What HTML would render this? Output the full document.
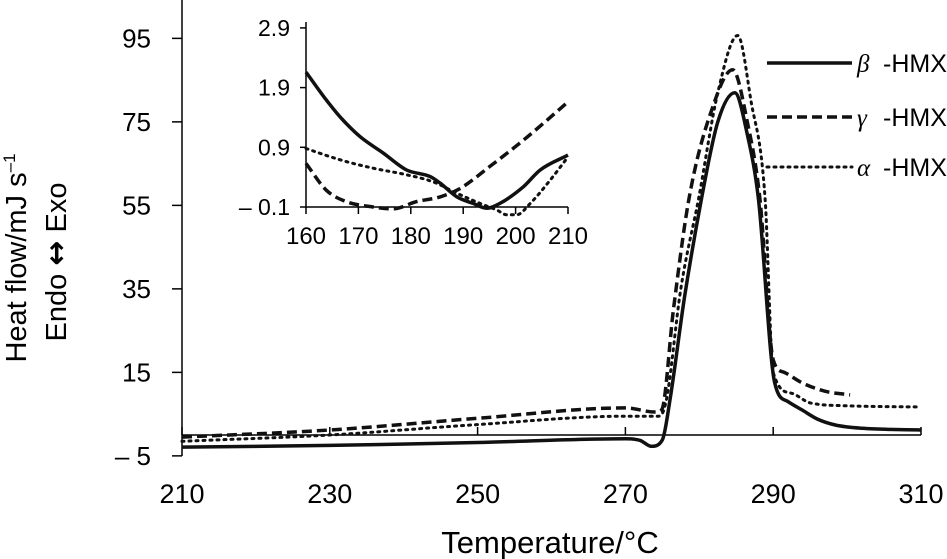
<!DOCTYPE html>
<html><head><meta charset="utf-8"><style>
html,body{margin:0;padding:0;background:#fff;}
svg{display:block;font-family:"Liberation Sans",sans-serif;}
</style></head><body>
<svg id="c" width="947" height="559" viewBox="0 0 947 559"></svg>
<script>
// main chart data
const xTicks=[210,230,250,270,290,310];
const yTicks=[95,75,55,35,15,-5];
const betaT=[210,230,250,270,272,273.5,275,276,278,280.3,282.5,284.8,286.5,288,290.2,292,293.9,296,298.4,302,310];
const betaV=[-2.9,-2.5,-1.8,-0.9,-1.3,-2.7,-1.2,8,33,56.6,75,82,72,56.6,12.5,8,6,3.8,2.4,1.6,1.2];
const gammaT=[210,230,250,270,274,274.9,276.5,278.6,281.7,284.5,286.5,288.2,290,291.5,293.9,297,300.4];
const gammaV=[-0.5,1.2,4,6.5,5.5,6,30,56.6,78,87.5,75,56.6,18,15,12.5,10.5,9.6];
const alphaT=[210,230,250,270,274.5,275.5,277.5,279.9,282.5,285.2,287,288.9,290,292.5,295,300,310];
const alphaV=[-1.5,0,2.5,4.5,4.5,8,35,56.6,82,95.7,80,56.6,15,10,7.7,7,6.7];
// inset data
const inXTicks=[160,170,180,190,200,210];
const inYTicks=[2.9,1.9,0.9,-0.1];
const inBetaT=[160,163.9,166.5,170.3,174.8,179.2,183.7,185.6,188.8,191.9,194.5,197,201.5,204.7,210];
const inBetaV=[2.16,1.69,1.41,1.08,0.80,0.52,0.41,0.30,0.07,-0.04,-0.12,-0.04,0.24,0.52,0.77];
const inGammaT=[160,163.9,167.7,172.8,176.6,181.1,185.6,189.4,195.1,201.5,210];
const inGammaV=[0.63,0.18,-0.01,-0.1,-0.13,-0.01,0.07,0.21,0.58,1.02,1.66];
const inAlphaT=[160,166.5,172.8,179.2,184.3,188.8,193.2,196.4,198.3,200.2,202.8,206.6,210];
const inAlphaV=[0.88,0.69,0.55,0.44,0.32,0.13,-0.04,-0.15,-0.23,-0.23,-0.04,0.35,0.74];

const svg=document.getElementById('c');
const NS='http://www.w3.org/2000/svg';
function mk(t,a,p){const e=document.createElementNS(NS,t);for(const k in a)e.setAttribute(k,a[k]);(p||svg).appendChild(e);return e;}
const X=v=>182+(v-210)*7.39;
const Y=v=>435-v*4.175;
const IX=v=>306+(v-160)*5.24;
const IY=v=>207-(v+0.1)*59.7;
function smooth(p){
  const n=p.length,d=[],m=[];
  for(let i=0;i<n-1;i++)d.push((p[i+1][1]-p[i][1])/(p[i+1][0]-p[i][0]));
  m[0]=d[0];m[n-1]=d[n-2];
  for(let i=1;i<n-1;i++)m[i]=(d[i-1]*d[i]<=0)?0:(d[i-1]+d[i])/2;
  for(let i=0;i<n-1;i++){if(d[i]===0){m[i]=0;m[i+1]=0;continue;}const a=m[i]/d[i],b=m[i+1]/d[i],s=a*a+b*b;if(s>9){const t=3/Math.sqrt(s);m[i]=t*a*d[i];m[i+1]=t*b*d[i];}}
  let s='M'+p[0][0].toFixed(1)+','+p[0][1].toFixed(1);
  for(let i=0;i<n-1;i++){const h=(p[i+1][0]-p[i][0])/3;s+=`C${(p[i][0]+h).toFixed(1)},${(p[i][1]+m[i]*h).toFixed(1)} ${(p[i+1][0]-h).toFixed(1)},${(p[i+1][1]-m[i+1]*h).toFixed(1)} ${p[i+1][0].toFixed(1)},${p[i+1][1].toFixed(1)}`;}
  return s;
}
const styles={beta:{w:3.5,da:''},gamma:{w:3.5,da:'10,5'},alpha:{w:3,da:'2,5'}};

let e;
e=mk('line',{x1:182,y1:0,x2:182,y2:456,stroke:'#000','stroke-width':1.5});

e=mk('line',{x1:182,y1:435,x2:921,y2:435,stroke:'#000','stroke-width':1.5});

yTicks.forEach(v=>{
  e=mk('line',{x1:172,y1:Y(v),x2:182,y2:Y(v),stroke:'#000','stroke-width':1.5});
  
  e=mk('text',{x:151,y:Y(v)+9,'font-size':26,'text-anchor':'end'});e.textContent=v<0?'– '+Math.abs(v):v;
  
});
xTicks.forEach(v=>{
  e=mk('line',{x1:X(v),y1:427,x2:X(v),y2:435,stroke:'#000','stroke-width':1.5});
  
  e=mk('text',{x:X(v),y:503,'font-size':27,'text-anchor':'middle'});e.textContent=v;
  
});
e=mk('text',{x:550,y:553,'font-size':31,'text-anchor':'middle'});e.textContent='Temperature/°C';

e=mk('text',{transform:'translate(26,258) rotate(-90)','font-size':29,'text-anchor':'middle'});
e.innerHTML='Heat flow/mJ s<tspan font-size="17" dy="-11">–1</tspan>';

e=mk('text',{transform:'translate(66,262) rotate(-90)','font-size':29,'text-anchor':'middle'});
e.innerHTML='Endo <tspan font-family="DejaVu Sans,sans-serif" font-weight="bold" font-size="30">↔</tspan> Exo';


function series(T,V,fx,fy,st,name){
  const p=mk('path',{d:smooth(T.map((t,i)=>[fx(t),fy(V[i])])),fill:'none',stroke:'#111','stroke-width':st.w,'stroke-dasharray':st.da,'stroke-linecap':st.da==='2,5'?'round':'butt','stroke-linejoin':'round'});
  
}
series(alphaT,alphaV,X,Y,styles.alpha,'alpha-hmx-line');
series(gammaT,gammaV,X,Y,styles.gamma,'gamma-hmx-line');
series(betaT,betaV,X,Y,styles.beta,'beta-hmx-line');

const leg=[['β','beta',63],['γ','gamma',117],['α','alpha',167]];
leg.forEach(([g,k,y])=>{
  const s=styles[k];
  e=mk('line',{x1:767,y1:y,x2:852,y2:y,stroke:'#111','stroke-width':s.w,'stroke-dasharray':s.da,'stroke-linecap':k==='alpha'?'round':'butt'});
  
  e=mk('text',{x:857,y:y+9,'font-size':25});
  e.innerHTML='<tspan font-family="Liberation Serif,serif" font-style="italic">'+g+'</tspan><tspan x="883">-HMX</tspan>';
  
});

e=mk('line',{x1:306,y1:22,x2:306,y2:207,stroke:'#000','stroke-width':1.5});

e=mk('line',{x1:306,y1:207,x2:568,y2:207,stroke:'#000','stroke-width':1.5});

inYTicks.forEach(v=>{
  e=mk('line',{x1:300,y1:IY(v),x2:306,y2:IY(v),stroke:'#000','stroke-width':1.5});
  
  e=mk('text',{x:290,y:IY(v)+8,'font-size':23,'text-anchor':'end'});e.textContent=v<0?'– '+Math.abs(v):v.toFixed(1);
  
});
inXTicks.forEach(v=>{
  e=mk('line',{x1:IX(v),y1:207,x2:IX(v),y2:214,stroke:'#000','stroke-width':1.5});
  
  e=mk('text',{x:IX(v),y:244,'font-size':24,'text-anchor':'middle'});e.textContent=v;
  
});
series(inAlphaT,inAlphaV,IX,IY,styles.alpha,'inset-alpha-hmx-line');
series(inGammaT,inGammaV,IX,IY,styles.gamma,'inset-gamma-hmx-line');
series(inBetaT,inBetaV,IX,IY,styles.beta,'inset-beta-hmx-line');
</script>
</body></html>
